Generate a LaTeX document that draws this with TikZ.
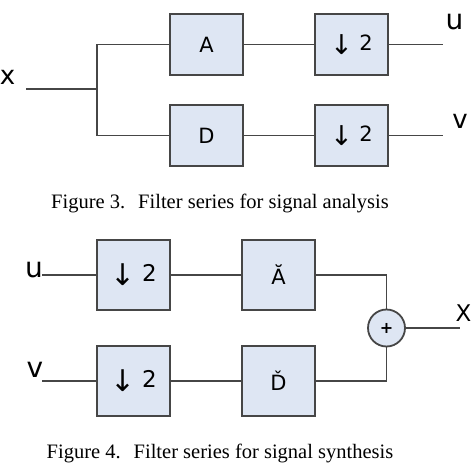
\documentclass[tikz,border=0pt]{standalone}
\usepackage{fontspec}
\setmainfont{Liberation Serif}
\setsansfont{DejaVu Sans}
\definecolor{boxFill}{RGB}{222, 230, 243}
\definecolor{lineGray}{RGB}{70, 70, 70}
\usetikzlibrary{positioning, calc}

\newcommand{\dsample}{\raisebox{-0.2em}{\fontsize{1.3em}{1.3em}\selectfont ↓}\hspace{0.3em}2}

\begin{document}
\begin{tikzpicture}[
    x=1pt, y=1pt,
    node distance=30pt and 72pt,
    block/.style={
      rectangle, draw=lineGray, fill=boxFill, line width=1.8pt,
      minimum width=73pt, minimum height=61pt, inner sep=0pt, outer sep=0pt,
      font=\sffamily\fontsize{21}{24}\selectfont
    },
    tallblock/.style={block, minimum height=70pt},
    sum/.style={
      circle, draw=lineGray, fill=boxFill, line width=1.8pt, outer sep=0pt,
      minimum size=37pt, inner sep=0pt, font=\sffamily\bfseries\fontsize{16}{18}\selectfont
    },
    wire/.style={draw=lineGray, line width=1.8pt},
    sig/.style={font=\sffamily\fontsize{28}{32}\selectfont, inner sep=0pt},
    figcap/.style={font=\fontsize{20.5}{24}\selectfont, inner sep=0pt},
  ]
    \useasboundingbox (0,0) rectangle (474,-466);

    % Analysis filters
    \node[block] (fa) at (206.5,-44.5) {A};
    \node[block, right=of fa] (dsa) {\dsample};
    \node[block, below=of fa] (fd) {D};
    \node[block, right=of fd] (dsd) {\dsample};

    % Analysis input and outputs
    \coordinate (xin) at (26,-89);
    \coordinate (split) at (97,-89);
    \coordinate (uout) at (443,-44.5);
    \coordinate (vout) at (443,-135.5);
    \node[sig, font=\sffamily\fontsize{26}{30}\selectfont] (xlab) at (7.5,-77.5) {x};
    \node[sig] (ulab) at (454.5,-22) {u};
    \node[sig, font=\sffamily\fontsize{26}{30}\selectfont] (vlab) at (460,-121.5) {v};

    \draw[wire] (xin) -- (split);
    \draw[wire] (split) |- (fa);
    \draw[wire] (split) |- (fd);
    \draw[wire] (fa) -- (dsa);
    \draw[wire] (fd) -- (dsd);
    \draw[wire] (dsa) -- (uout);
    \draw[wire] (dsd) -- (vout);

    \node[figcap] (cap3) at (220,-203)
      {Figure 3.\hspace{0.3em} Filter series for signal analysis};

    % Synthesis filters
    \node[tallblock] (dsu) at (133.5,-275) {\fontsize{23}{24}\selectfont\dsample};
    \node[tallblock, right=of dsu] (fat) {Ă};
    \node[tallblock, below=36pt of dsu] (dsv) {\fontsize{23}{24}\selectfont\dsample};
    \node[tallblock, right=of dsv] (fdt) {Ď};
    \node[sum] (add) at (386.5,-328) {+};

    % Synthesis inputs and output
    \coordinate (uin) at (42,-275);
    \coordinate (vin) at (42,-381);
    \coordinate (xout) at (460,-328);
    \node[sig] (uinlab) at (34,-270) {u};
    \node[sig] (vinlab) at (35,-370) {v};
    \node[sig, font=\sffamily\fontsize{23}{26}\selectfont] (xlabout) at (463.5,-313) {X};

    \draw[wire] (uin) -- (dsu);
    \draw[wire] (vin) -- (dsv);
    \draw[wire] (dsu) -- (fat);
    \draw[wire] (dsv) -- (fdt);
    \draw[wire] (fat) -| (add);
    \draw[wire] (fdt) -| (add);
    \draw[wire] (add) -- (xout);

    \node[figcap] (cap4) at (220,-453)
      {Figure 4.\hspace{0.3em} Filter series for signal synthesis};
  \end{tikzpicture}
\end{document}
